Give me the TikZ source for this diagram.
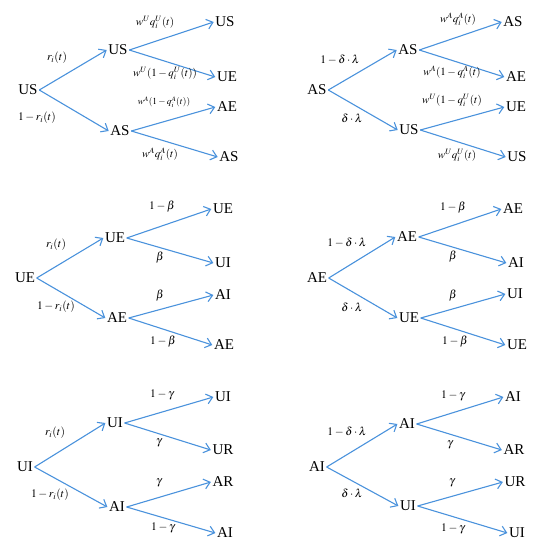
\documentclass[tikz,border=0pt]{standalone}
\usepackage{amsmath, amssymb}
\usepackage{mathptmx}
\usepackage[no-math]{fontspec}
\setmainfont{Liberation Serif}
\usetikzlibrary{arrows.meta}

\definecolor{arrowblue}{RGB}{74,146,220}

\begin{document}
\begin{tikzpicture}[x=1pt, y=-1pt,
        state/.style={inner sep=1.5pt, font=\fontsize{15}{18}\selectfont},
        lab/.style={inner sep=0pt, font=\fontsize{11.5}{13}\selectfont},
        slab/.style={inner sep=0pt, font=\fontsize{11}{13}\selectfont},
        arr/.style={draw=arrowblue, line width=1.1pt, -{Straight Barb[length=6pt, width=10pt]}}]
    \useasboundingbox (0, 0) rectangle (541, 550);

    % US tree
    \node[state] (r1) at (28, 90) {US};
    \node[state] (u1) at (118, 50) {US};
    \node[state] (d1) at (120, 131) {AS};
    \node[state] (uu1) at (225, 22) {US};
    \node[state] (ud1) at (227, 77) {UE};
    \node[state] (du1) at (227, 107) {AE};
    \node[state] (dd1) at (229, 157) {AS};
    \draw[arr] (r1.east) -- (u1.west);
    \draw[arr] (r1.east) -- (d1.west);
    \draw[arr] (u1.east) -- (uu1.west);
    \draw[arr] (u1.east) -- (ud1.west);
    \draw[arr] (d1.east) -- (du1.west);
    \draw[arr] (d1.east) -- (dd1.west);
    \node[lab] at (57, 58) {$r_i(t)$};
    \node[lab] at (37, 118) {$1-r_i(t)$};
    \node[slab] at (155, 22) {$w^U q_i^U(t)$};
    \node[slab] at (165, 73) {$w^U(1-q_i^U(t))$};
    \node[slab, scale=0.85] at (164, 102) {$w^A(1-q_i^A(t))$};
    \node[slab] at (160, 154) {$w^A q_i^A(t)$};

    % AS tree
    \node[state] (r2) at (317, 90) {AS};
    \node[state] (u2) at (408, 50) {AS};
    \node[state] (d2) at (409, 130) {US};
    \node[state] (uu2) at (513, 22) {AS};
    \node[state] (ud2) at (516, 77) {AE};
    \node[state] (du2) at (516, 107) {UE};
    \node[state] (dd2) at (517, 157) {US};
    \draw[arr] (r2.east) -- (u2.west);
    \draw[arr] (r2.east) -- (d2.west);
    \draw[arr] (u2.east) -- (uu2.west);
    \draw[arr] (u2.east) -- (ud2.west);
    \draw[arr] (d2.east) -- (du2.west);
    \draw[arr] (d2.east) -- (dd2.west);
    \node[lab] at (340, 60) {$1-\delta\cdot\lambda$};
    \node[lab] at (352, 118) {$\delta\cdot\lambda$};
    \node[slab] at (458, 19) {$w^A q_i^A(t)$};
    \node[slab] at (452, 72) {$w^A(1-q_i^A(t)$};
    \node[slab] at (452, 100) {$w^U(1-q_i^U(t)$};
    \node[slab] at (457, 155) {$w^U q_i^U(t)$};

    % UE tree
    \node[state] (r3) at (25, 278) {UE};
    \node[state] (u3) at (115, 238) {UE};
    \node[state] (d3) at (117, 318) {AE};
    \node[state] (uu3) at (223, 209) {UE};
    \node[state] (ud3) at (223, 263) {UI};
    \node[state] (du3) at (223, 295) {AI};
    \node[state] (dd3) at (224, 345) {AE};
    \draw[arr] (r3.east) -- (u3.west);
    \draw[arr] (r3.east) -- (d3.west);
    \draw[arr] (u3.east) -- (uu3.west);
    \draw[arr] (u3.east) -- (ud3.west);
    \draw[arr] (d3.east) -- (du3.west);
    \draw[arr] (d3.east) -- (dd3.west);
    \node[lab] at (56, 245) {$r_i(t)$};
    \node[lab] at (56, 307) {$1-r_i(t)$};
    \node[lab] at (162, 207) {$1-\beta$};
    \node[lab] at (160, 258) {$\beta$};
    \node[lab] at (160, 296) {$\beta$};
    \node[lab] at (163, 342) {$1-\beta$};

    % AE tree
    \node[state] (r4) at (317, 278) {AE};
    \node[state] (u4) at (407, 237) {AE};
    \node[state] (d4) at (409, 318) {UE};
    \node[state] (uu4) at (513, 209) {AE};
    \node[state] (ud4) at (516, 263) {AI};
    \node[state] (du4) at (515, 294) {UI};
    \node[state] (dd4) at (517, 345) {UE};
    \draw[arr] (r4.east) -- (u4.west);
    \draw[arr] (r4.east) -- (d4.west);
    \draw[arr] (u4.east) -- (uu4.west);
    \draw[arr] (u4.east) -- (ud4.west);
    \draw[arr] (d4.east) -- (du4.west);
    \draw[arr] (d4.east) -- (dd4.west);
    \node[lab] at (347, 243) {$1-\delta\cdot\lambda$};
    \node[lab] at (352, 307) {$\delta\cdot\lambda$};
    \node[lab] at (453, 208) {$1-\beta$};
    \node[lab] at (453, 257) {$\beta$};
    \node[lab] at (453, 296) {$\beta$};
    \node[lab] at (455, 342) {$1-\beta$};

    % UI tree
    \node[state] (r5) at (25, 467) {UI};
    \node[state] (u5) at (115, 423) {UI};
    \node[state] (d5) at (117, 507) {AI};
    \node[state] (uu5) at (223, 397) {UI};
    \node[state] (ud5) at (223, 450) {UR};
    \node[state] (du5) at (223, 482) {AR};
    \node[state] (dd5) at (225, 533) {AI};
    \draw[arr] (r5.east) -- (u5.west);
    \draw[arr] (r5.east) -- (d5.west);
    \draw[arr] (u5.east) -- (uu5.west);
    \draw[arr] (u5.east) -- (ud5.west);
    \draw[arr] (d5.east) -- (du5.west);
    \draw[arr] (d5.east) -- (dd5.west);
    \node[lab] at (55, 433) {$r_i(t)$};
    \node[lab] at (50, 495) {$1-r_i(t)$};
    \node[lab] at (162, 395) {$1-\gamma$};
    \node[lab] at (159, 443) {$\gamma$};
    \node[lab] at (159, 483) {$\gamma$};
    \node[lab] at (163, 528) {$1-\gamma$};

    % AI tree
    \node[state] (r6) at (317, 467) {AI};
    \node[state] (u6) at (407, 424) {AI};
    \node[state] (d6) at (408, 506) {UI};
    \node[state] (uu6) at (513, 397) {AI};
    \node[state] (ud6) at (514, 450) {AR};
    \node[state] (du6) at (515, 482) {UR};
    \node[state] (dd6) at (517, 533) {UI};
    \draw[arr] (r6.east) -- (u6.west);
    \draw[arr] (r6.east) -- (d6.west);
    \draw[arr] (u6.east) -- (uu6.west);
    \draw[arr] (u6.east) -- (ud6.west);
    \draw[arr] (d6.east) -- (du6.west);
    \draw[arr] (d6.east) -- (dd6.west);
    \node[lab] at (347, 432) {$1-\delta\cdot\lambda$};
    \node[lab] at (352, 493) {$\delta\cdot\lambda$};
    \node[lab] at (453, 396) {$1-\gamma$};
    \node[lab] at (450, 445) {$\gamma$};
    \node[lab] at (452, 483) {$\gamma$};
    \node[lab] at (453, 529) {$1-\gamma$};
\end{tikzpicture}
\end{document}
